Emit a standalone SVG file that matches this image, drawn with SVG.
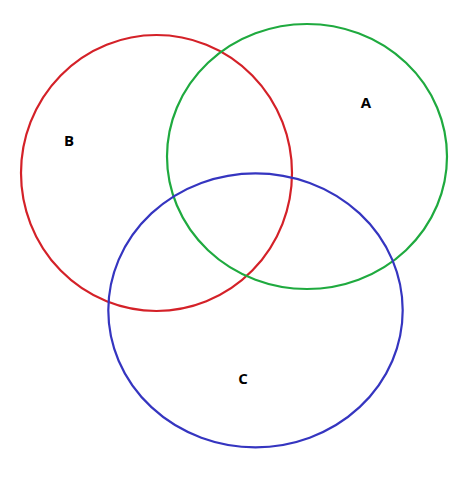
<svg xmlns="http://www.w3.org/2000/svg" width="474" height="479" viewBox="0 0 474 479">
<style>
.c{fill:none;stroke-width:2.2}
.l{font-family:"Open Sans","Liberation Sans",sans-serif;font-weight:bold;font-size:15px;fill:#000;text-anchor:middle}
</style>
<rect width="474" height="479" fill="#fff"/>
<g id="B"><ellipse class="c" cx="156.5" cy="173" rx="135.5" ry="138" stroke="#d42128"/><text class="l" x="69" y="145.5">B</text></g>
<g id="A"><ellipse class="c" cx="307" cy="156.5" rx="140" ry="132.5" stroke="#1faa3f"/><text class="l" x="366" y="107.5">A</text></g>
<g id="C"><ellipse class="c" cx="255.5" cy="310.3" rx="147.2" ry="137" stroke="#3535c0"/><text class="l" x="243" y="383.5">C</text></g>
<g id="connectors"/>
</svg>
